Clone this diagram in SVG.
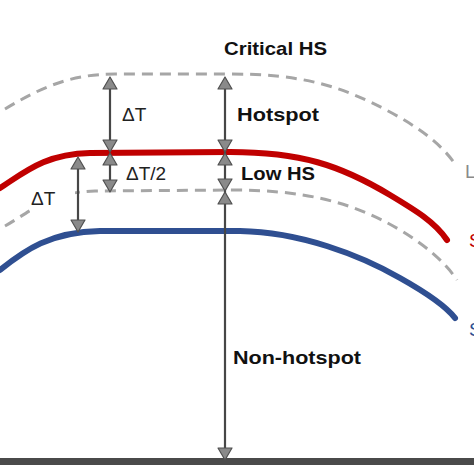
<svg xmlns="http://www.w3.org/2000/svg" width="474" height="474" viewBox="0 0 474 474">
<style>
.dash{fill:none;stroke:#a6a6a6;stroke-width:3;stroke-dasharray:11 7}
.red{fill:none;stroke:#c00000;stroke-width:6;stroke-linecap:round}
.blue{fill:none;stroke:#2f4f91;stroke-width:6;stroke-linecap:round}
.shaft{stroke:#474747;stroke-width:2.2}
.head{fill:#8a8a8a;stroke:#505050;stroke-width:1.2;stroke-linejoin:round}
.lbl{font-family:"Liberation Sans",Arial,sans-serif;font-weight:bold;font-size:19px;fill:#111}
.dt{font-family:"Liberation Sans",Arial,sans-serif;font-size:19px;fill:#222}
</style>
<defs>
<path id="up" class="head" d="M0,0 L7,12 L-7,12 Z"/>
<path id="dn" class="head" d="M0,0 L7,-12 L-7,-12 Z"/>
</defs>
<rect width="474" height="474" fill="#fff"/>
<g id="curves">
<path class="dash" d="M5,109 C40,88 70,74 115,74 L230,74 C300,74 340,85 390,112 C420,128 442,145 455,164"/>
<path class="dash" d="M5,226 C30,212 50,192 95,191 L230,190 C300,190 350,200 400,230 C425,245 445,262 457,280"/>
<rect x="30" y="185" width="45" height="28" fill="#fff"/>
<path class="red" d="M0,188 C25,172 45,154 90,153 L230,152 C300,152 340,165 390,195 C415,210 435,222 447,240"/>
<path class="blue" d="M0,270 C25,250 50,232 100,231 L240,231 C300,232 360,255 400,278 C425,292 445,305 455,318"/>
</g>
<rect x="0" y="458" width="474" height="7" fill="#4a4a4a"/>
<g id="connectors">
<line class="shaft" x1="110" y1="80" x2="110" y2="149"/>
<line class="shaft" x1="110" y1="156" x2="110" y2="190"/>
<line class="shaft" x1="78" y1="160" x2="78" y2="229"/>
<line class="shaft" x1="225" y1="80" x2="225" y2="457"/>
<use href="#up" x="110" y="77"/>
<use href="#dn" x="110" y="152"/>
<use href="#up" x="110" y="153"/>
<use href="#dn" x="110" y="192"/>
<use href="#up" x="78" y="157"/>
<use href="#dn" x="78" y="232"/>
<use href="#up" x="225" y="77"/>
<use href="#dn" x="225" y="152"/>
<use href="#up" x="225" y="153"/>
<use href="#dn" x="225" y="191"/>
<use href="#up" x="225" y="192"/>
<use href="#dn" x="225" y="460"/>
</g>
<g id="labels">
<text class="lbl" x="224" y="55" textLength="103" lengthAdjust="spacingAndGlyphs">Critical HS</text>
<text class="lbl" x="237" y="121" textLength="82" lengthAdjust="spacingAndGlyphs">Hotspot</text>
<text class="lbl" x="241" y="180" textLength="74" lengthAdjust="spacingAndGlyphs">Low HS</text>
<text class="lbl" x="233" y="364" textLength="128" lengthAdjust="spacingAndGlyphs">Non-hotspot</text>
<text class="dt" x="122" y="121">ΔT</text>
<text class="dt" x="126" y="180">ΔT/2</text>
<text class="dt" x="31" y="205">ΔT</text>
<text class="dt" x="465" y="178" fill="#8a8a8a" style="fill:#8a8a8a">L</text>
<text class="dt" x="469" y="247" style="fill:#c00000">S</text>
<text class="dt" x="469" y="336" style="fill:#2f4f91">S</text>
</g>
</svg>
